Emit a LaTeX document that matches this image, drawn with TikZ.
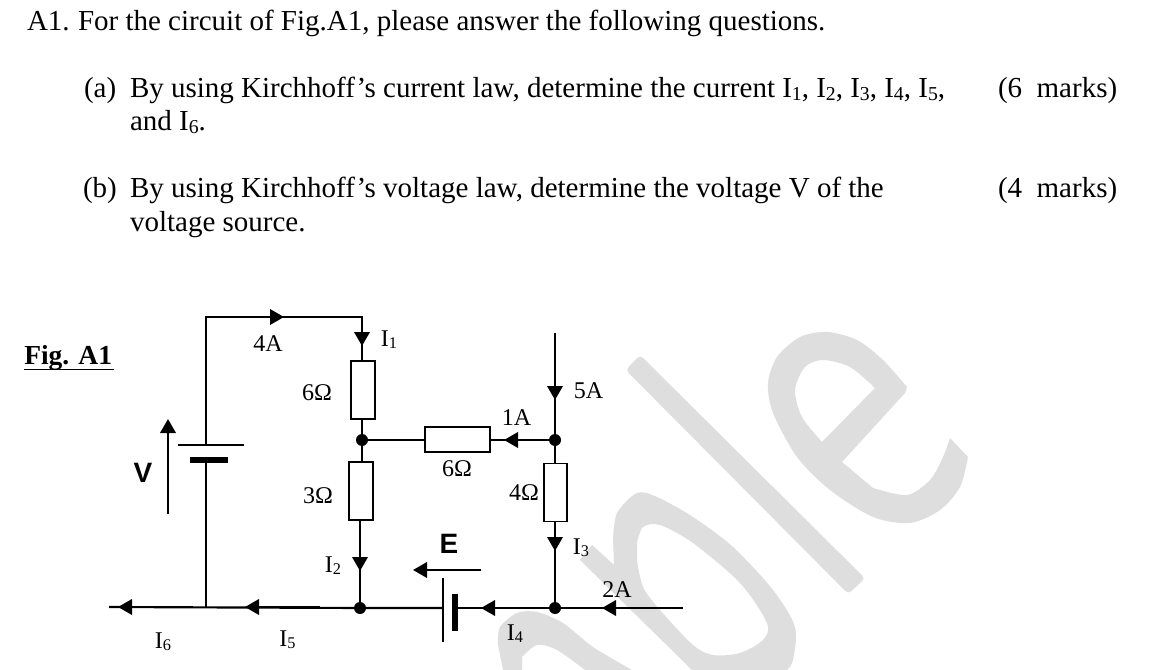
\documentclass[tikz,border=0pt]{standalone}
\usepackage{fontspec}
\setmainfont{Liberation Serif}
\newfontfamily\lblsans{Liberation Sans}
\usetikzlibrary{arrows.meta}
\newcommand{\sbs}[1]{\raisebox{-0.22ex}{\scalebox{0.68}{#1}}}
\tikzset{
  x=0.75pt,y=-0.75pt,
  wire/.style={line width=1.6pt,black},
  thin wire/.style={line width=1.2pt,black},
  flow/.style={line width=1.9pt,black,-{Triangle[length=10.5pt,width=11.5pt]}},
  res/.style={draw=black,fill=white,line width=1.3pt,inner sep=0pt,outer sep=0pt},
  junction/.style={circle,fill=black,inner sep=0pt,minimum size=9pt,outer sep=0pt},
  body/.style={anchor=base west,inner sep=0pt,outer sep=0pt,font=\fontsize{21.75pt}{21.75pt}\selectfont},
  lbl/.style={anchor=base,inner sep=0pt,outer sep=0pt,font=\fontsize{18pt}{18pt}\selectfont},
  big/.style={anchor=base,inner sep=0pt,outer sep=0pt,font=\lblsans\bfseries\fontsize{21pt}{21pt}\selectfont},
  wmark/.style={fill=black!13,draw=none},
}
\begin{document}
\begin{tikzpicture}
\useasboundingbox (0,0) rectangle (1160,670);
\fill[white] (0,0) rectangle (1160,670);
% watermark
\begin{scope}
\clip (0,0) rectangle (1160,670);
\fill[wmark,rounded corners=3pt] (625.7,370) -- (640,355) -- (865,578.3) -- (848.3,594) -- cycle;
\fill[wmark,even odd rule]
  (950,438) -- plot[smooth] coordinates {(968,457) (960,487) (940,510) (910,523) (873,517) (830,490) (797,457) (773,413) (768,383) (777,357) (800,337) (827,332) (857,340) (883,360) (907,387)}
  -- (905,393) -- (842,462) -- plot[smooth] coordinates {(873,488) (907,495) (930,480) (943,457) (950,438)} -- cycle
  (875,388) -- plot[smooth] coordinates {(822,442) (802,417) (795,390) (805,367) (823,360) (850,367) (875,388)} -- cycle;
\fill[wmark,even odd rule]
  (580,560) -- (592,545) -- (614,565) -- plot[smooth] coordinates {(613,540) (617,513) (637,493) (657,497) (693,517) (733,547) (773,590) (795,627) (793,660) (787,670)}
  -- (692,670) -- cycle
  (637,560) -- plot[smooth] coordinates {(637,543) (643,527) (660,525) (693,543) (740,583) (767,623) (763,640) (740,653) (713,655) (693,645) (660,610) (643,587) (637,560)} -- cycle;
\fill[wmark,even odd rule]
  (503,670) -- plot[smooth] coordinates {(498,645) (500,627) (517,613) (537,612) (563,623) (593,647) (632,670)} -- cycle
  (522,670) -- plot[smooth] coordinates {(522,657) (537,645) (557,650) (585,670)} -- cycle;
\end{scope}
% text
\node[body] (q1a) at (27,31) {A1.};
\node[body] (q1) at (78,31) {For the circuit of Fig.A1, please answer the following questions.};
\node[body] (pa) at (84,98) {(a)};
\node[body] (ta1) at (130,98) {By using Kirchhoff’s current law, determine the current I\sbs{1}, I\sbs{2}, I\sbs{3}, I\sbs{4}, I\sbs{5},};
\node[body] (ta2) at (130,131) {and I\sbs{6}.};
\node[body] (ma) at (998,98) {(6\ \ marks)};
\node[body] (pb) at (83,198) {(b)};
\node[body] (tb1) at (130,198) {By using Kirchhoff’s voltage law, determine the voltage V of the};
\node[body] (tb2) at (130,232) {voltage source.};
\node[body] (mb) at (998,198) {(4\ \ marks)};
\node[anchor=base west,inner sep=0pt,font=\bfseries\fontsize{20.6pt}{20.6pt}\selectfont] (fig) at (24,364) {Fig. A1};
\coordinate (ula) at (24,369.5);
\coordinate (ulb) at (113.5,369.5);
\draw[line width=1.4pt] (ula) -- (ulb);
% nodes
\coordinate (tl) at (206,317);
\coordinate (tr) at (362,317);
\coordinate (bl) at (206,607);
\coordinate (west) at (109,607);
\coordinate (east) at (683,608);
\coordinate (north) at (555,333);
\node[junction] (j1) at (362,440) {};
\node[junction] (j2) at (555,440) {};
\node[junction] (j3) at (360,608) {};
\node[junction] (j4) at (555,608) {};
\node[res,minimum width=18pt,minimum height=43.5pt] (r1) at (363,390) {};
\node[res,minimum width=18pt,minimum height=43.5pt] (r2) at (361,491) {};
\node[res,minimum width=17.5pt,minimum height=43.5pt] (r4) at (555.5,492.5) {};
\node[res,minimum width=49pt,minimum height=18.5pt] (r3) at (457.5,439.5) {};
% battery V
\coordinate (vt) at (206,445);
\coordinate (vb) at (206,460);
\coordinate (vtl) at (178,445);
\coordinate (vtr) at (244,445);
\coordinate (vbl) at (190,460);
\coordinate (vbr) at (228,460);
% battery E
\coordinate (et) at (443,608);
\coordinate (eb) at (455,608);
\coordinate (ett) at (443,578);
\coordinate (etb) at (443,642);
\coordinate (ebt) at (455,594);
\coordinate (ebb) at (455,631);
% wires
\draw[wire] (vt) -- (tl) -- (tr) -- (tr |- r1.north);
\draw[wire] (j1 |- r1.south) -- (j1) -- (j1 |- r2.north);
\draw[wire] (j3 |- r2.south) -- (j3);
\draw[wire] (vb) -- (bl);
\draw[wire] (west) -- (j3) -- (et);
\draw[wire] (eb) -- (j4) -- (east);
\draw[wire] (j1) -- (j1 -| r3.west);
\draw[wire] (j2 -| r3.east) -- (j2);
\draw[wire] (north) -- (j2) -- (j2 |- r4.north);
\draw[wire] (j4 |- r4.south) -- (j4);
\draw[thin wire] (vtl) -- (vtr);
\draw[line width=4pt] (vbl) -- (vbr);
\draw[thin wire] (ett) -- (etb);
\draw[line width=4.5pt] (ebt) -- (ebb);
% flows
\coordinate (a4s) at (221,317);\coordinate (a4e) at (284,317);
\coordinate (i1s) at (362,322);\coordinate (i1e) at (362,346);
\coordinate (i2s) at (360,522);\coordinate (i2e) at (360,571);
\coordinate (vs) at (168,514);\coordinate (ve) at (168,419);
\coordinate (i6s) at (193,607);\coordinate (i6e) at (118,607);
\coordinate (i5s) at (320,607);\coordinate (i5e) at (245,607);
\coordinate (a5s) at (555,340);\coordinate (a5e) at (555,400);
\coordinate (a1e) at (504,440);
\coordinate (i3s) at (555,522);\coordinate (i3e) at (555,551);
\coordinate (a2s) at (651,608);\coordinate (a2e) at (602,608);
\coordinate (i4s) at (550,608);\coordinate (i4e) at (481,608);
\coordinate (ees) at (481,570);\coordinate (eee) at (413,570);
\draw[flow] (a4s) -- (a4e);
\draw[flow] (i1s) -- (i1e);
\draw[flow] (i2s) -- (i2e);
\draw[flow] (vs) -- (ve);
\draw[flow] (i6s) -- (i6e);
\draw[flow] (i5s) -- (i5e);
\draw[flow] (a5s) -- (a5e);
\draw[flow] (j2) -- (a1e);
\draw[flow] (i3s) -- (i3e);
\draw[flow] (a2s) -- (a2e);
\draw[flow] (i4s) -- (i4e);
\draw[flow] (ees) -- (eee);
% labels
\node[lbl] (l4a) at (268,351) {4A};
\node[lbl] (li1) at (389,346) {I\sbs{1}};
\node[lbl] (l6a) at (317,400) {6Ω};
\node[lbl] (l3a) at (318,503) {3Ω};
\node[lbl] (li2) at (333,572) {I\sbs{2}};
\node[lbl] (li6) at (163,648) {I\sbs{6}};
\node[lbl] (li5) at (287.5,646) {I\sbs{5}};
\node[lbl] (l5a) at (588.5,398) {5A};
\node[lbl] (l1a) at (516.5,425) {1A};
\node[lbl] (l6b) at (457,476) {6Ω};
\node[lbl] (l4b) at (524,500) {4Ω};
\node[lbl] (li3) at (581,554) {I\sbs{3}};
\node[lbl] (l2a) at (617,597) {2A};
\node[lbl] (li4) at (515,640) {I\sbs{4}};
\node[big] (lv) at (143,482) {V};
\node[big] (le) at (449,553) {E};
\end{tikzpicture}
\end{document}
